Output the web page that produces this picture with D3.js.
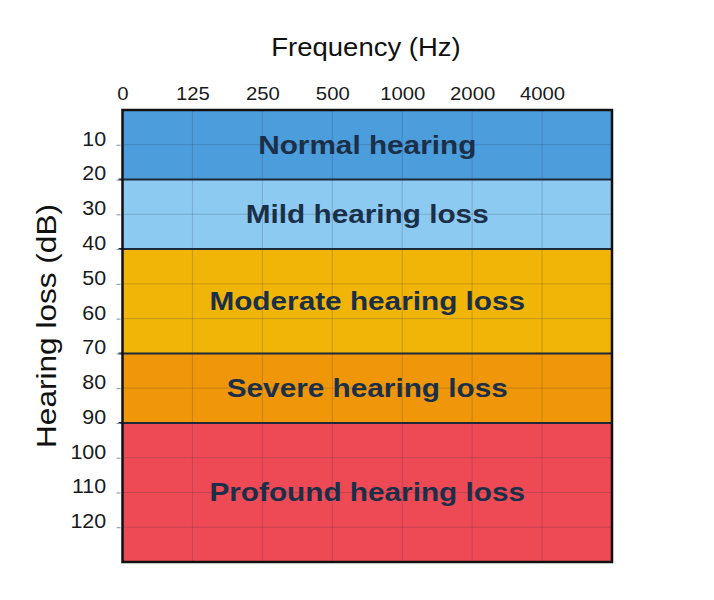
<!DOCTYPE html>
<html>
<head>
<meta charset="utf-8">
<script src="https://cdn.jsdelivr.net/npm/d3@7"></script>
<style>
  body { margin: 0; background: #fff; }
  svg text { font-family: "Liberation Sans", Arial, sans-serif; }
</style>
</head>
<body>
<div id="chart"></div>
<script>
// данные
var freqLabels = ["0", "125", "250", "500", "1000", "2000", "4000", ""]
var dbTicks = [10, 20, 30, 40, 50, 60, 70, 80, 90, 100, 110, 120]
var bandNames = ["Normal hearing", "Mild hearing loss", "Moderate hearing loss", "Severe hearing loss", "Profound hearing loss"]
var bandFrom = [0, 20, 40, 70, 90]
var bandTo = [20, 40, 70, 90, 130]
var bandColors = ["#4c9ddc", "#8dcaf1", "#f0b506", "#f09709", "#ee4a55"]

var width = 714, height = 600
var plotLeft = 122.5, plotRight = 612, plotTop = 110, plotBottom = 562

var svg = d3.select("#chart").append("svg")
    .attr("width", width)
    .attr("height", height)

var x = d3.scalePoint()
    .domain(d3.range(freqLabels.length))
    .range([plotLeft, plotRight])

var y = d3.scaleLinear()
    .domain([0, 130])
    .range([plotTop, plotBottom])

// полосы
svg.selectAll(".band")
    .data(bandNames)
    .enter().append("rect")
    .attr("class", "band")
    .attr("x", plotLeft)
    .attr("width", plotRight - plotLeft)
    .attr("y", function (d, i) { return y(bandFrom[i]) })
    .attr("height", function (d, i) { return y(bandTo[i]) - y(bandFrom[i]) })
    .style("fill", function (d, i) { return bandColors[i] })

// сетка
svg.append("g")
    .selectAll("line")
    .data(d3.range(10, 130, 10))
    .enter().append("line")
    .attr("x1", plotLeft).attr("x2", plotRight)
    .attr("y1", function (d) { return y(d) })
    .attr("y2", function (d) { return y(d) })
    .style("stroke", "rgba(40,40,70,0.2)")
    .style("stroke-width", 1)

svg.append("g")
    .selectAll("line")
    .data(d3.range(1, freqLabels.length - 1))
    .enter().append("line")
    .attr("x1", function (d) { return x(d) })
    .attr("x2", function (d) { return x(d) })
    .attr("y1", plotTop).attr("y2", plotBottom)
    .style("stroke", "rgba(40,40,70,0.2)")
    .style("stroke-width", 1)

// границы полос
svg.append("g")
    .selectAll("line")
    .data(bandFrom.slice(1))
    .enter().append("line")
    .attr("x1", plotLeft - 4).attr("x2", plotRight)
    .attr("y1", function (d) { return y(d) })
    .attr("y2", function (d) { return y(d) })
    .style("stroke", "#1e2a3c")
    .style("stroke-width", 2)

svg.append("rect")
    .attr("x", plotLeft).attr("y", plotTop)
    .attr("width", plotRight - plotLeft).attr("height", plotBottom - plotTop)
    .style("fill", "none")
    .style("stroke", "#111")
    .style("stroke-width", 2.5)

// оси
var xAxis = svg.append("g")
    .attr("transform", "translate(0," + (plotTop - 10) + ")")
    .call(d3.axisTop(x).tickSize(0).tickPadding(0).tickFormat(function (d) { return freqLabels[d] }))
xAxis.select(".domain").remove()
xAxis.selectAll("text")
    .attr("transform", "scale(1.07,1)")
    .style("font-size", "19px")
    .style("fill", "#1a1a1a")

var yAxis = svg.append("g")
    .attr("transform", "translate(" + (plotLeft - 2) + ",0)")
    .call(d3.axisLeft(y).tickValues(dbTicks).tickSize(4).tickPadding(9))
yAxis.select(".domain").remove()
yAxis.selectAll("line").style("stroke", "#8090a8")
yAxis.selectAll("text")
    .attr("dy", "0.02em")
    .attr("transform", "scale(1.1,1)")
    .style("font-size", "19.5px")
    .style("fill", "#1a1a1a")

svg.append("text")
    .attr("transform", "translate(366,56) scale(1.1,1)")
    .attr("text-anchor", "middle")
    .style("font-size", "25px")
    .style("fill", "#111")
    .text("Frequency (Hz)")

svg.append("text")
    .attr("transform", "translate(56,326) rotate(-90) scale(1.17,1)")
    .attr("text-anchor", "middle")
    .style("font-size", "27px")
    .style("fill", "#111")
    .text("Hearing loss (dB)")

// подписи полос
svg.selectAll(".bandLabel")
    .data(bandNames)
    .enter().append("text")
    .attr("class", "bandLabel")
    .attr("transform", function (d, i) {
        var cy = (y(bandFrom[i]) + y(bandTo[i])) / 2
        return "translate(" + ((plotLeft + plotRight) / 2) + "," + cy + ") scale(1.19,1)"
    })
    .attr("dy", "0.35em")
    .attr("text-anchor", "middle")
    .style("font-size", "25px")
    .style("font-weight", "bold")
    .style("fill", "#1b2f48")
    .text(function (d) { return d })
</script>
</body>
</html>
